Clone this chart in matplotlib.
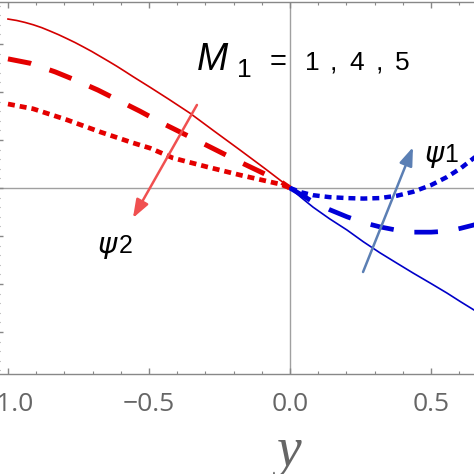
import matplotlib
matplotlib.use("Agg")
import matplotlib.pyplot as plt
from matplotlib.ticker import MultipleLocator

# red curves (left half)
x_red = [-1.0, -0.969, -0.940, -0.910, -0.880, -0.851, -0.821, -0.792, -0.762, -0.733,
         -0.703, -0.674, -0.644, -0.614, -0.585, -0.556, -0.526, -0.496, -0.43, -0.355,
         -0.27, -0.177, -0.09, -0.012, 0.0]
red_solid = [0.352, 0.349, 0.345, 0.340, 0.334, 0.327, 0.3195, 0.3115, 0.303, 0.294,
             0.2845, 0.2745, 0.2642, 0.2536, 0.2428, 0.2318, 0.2208, 0.2098, 0.185, 0.156,
             0.119, 0.079, 0.041, 0.006, 0.0]

x_red_dash = [-1.0, -0.922, -0.833, -0.762, -0.681, -0.610, -0.532, -0.461, -0.319, -0.177, -0.035, 0.0]
red_dash = [0.269, 0.260, 0.242, 0.225, 0.204, 0.183, 0.160, 0.1375, 0.096, 0.054, 0.014, 0.0]

x_red_dot = [-1.0, -0.911, -0.791, -0.674, -0.557, -0.496, -0.415, -0.294, -0.177, -0.035, 0.0]
red_dot = [0.175, 0.165, 0.142, 0.117, 0.094, 0.083, 0.0625, 0.044, 0.027, 0.008, 0.0]

# blue curves (right half)
x_blue = [0.0, 0.04, 0.082, 0.14, 0.202, 0.26, 0.319, 0.38, 0.436, 0.50, 0.557, 0.605, 0.652, 0.70]
blue_solid = [0.0, -0.020, -0.040, -0.064, -0.0875, -0.112, -0.135, -0.157, -0.177, -0.199,
              -0.219, -0.237, -0.254, -0.271]
blue_dash = [0.0, -0.014, -0.029, -0.045, -0.060, -0.072, -0.081, -0.088, -0.092, -0.092,
             -0.090, -0.084, -0.077, -0.068]
blue_dot = [0.0, -0.009, -0.015, -0.019, -0.021, -0.022, -0.021, -0.016, -0.008, 0.006,
            0.023, 0.041, 0.0625, 0.088]

W = 474.0
fig = plt.figure(figsize=(4.74, 4.74), dpi=100)
ax = fig.add_axes([-3.3 / W, 100 / W, 586.6 / W, 372 / W])
ax.set_xlim(-1.04, 1.04)
ax.set_ylim(-0.3875, 0.3875)

plt.rcParams['lines.scale_dashes'] = False
red = '#e40000'
blue = '#0000d8'

ax.axhline(0, color='#a0a0a0', lw=1.0, zorder=1)
ax.axvline(0, color='#a0a0a0', lw=1.0, zorder=1)

ax.plot(x_red, red_solid, color='#d40000', lw=1.2, zorder=3)
ax.plot(x_red_dash, red_dash, color=red, lw=3.6, dashes=(17, 14), dash_capstyle='butt', zorder=3)
ax.plot(x_red_dot, red_dot, color=red, lw=3.4, dashes=(5, 3.6), dash_capstyle='butt', zorder=3)

ax.plot(x_blue, blue_solid, color='#0000c8', lw=1.2, zorder=3)
ax.plot(x_blue, blue_dash, color=blue, lw=3.4, dashes=(17, 15), dash_capstyle='butt', zorder=3)
ax.plot(x_blue, blue_dot, color=blue, lw=3.2, dashes=(5, 3.6), dash_capstyle='butt', zorder=3)

# arrows
ax.annotate('', xy=(0.436, 0.085), xytext=(0.259, -0.175),
            arrowprops=dict(arrowstyle='-|>,head_length=1.1,head_width=0.4',
                            color='#5b7fb4', lw=1.8, shrinkA=0, shrinkB=0), zorder=4)
ax.annotate('', xy=(-0.557, -0.0625), xytext=(-0.330, 0.173),
            arrowprops=dict(arrowstyle='-|>,head_length=1.1,head_width=0.4',
                            color='#f05050', lw=1.8, shrinkA=0, shrinkB=0), zorder=4)

# frame and ticks
for s in ax.spines.values():
    s.set_color('#888888')
    s.set_linewidth(1.0)
ax.xaxis.set_minor_locator(MultipleLocator(0.1))
ax.yaxis.set_major_locator(MultipleLocator(0.1))
ax.yaxis.set_minor_locator(MultipleLocator(0.02))
ax.tick_params(which='both', direction='in', top=True, right=True, color='#888888')
ax.tick_params(which='major', length=4.5, width=1.0)
ax.tick_params(which='minor', length=2.3, width=0.8)
ax.tick_params(axis='x', labelsize=19, labelcolor='#666666', pad=13)
ax.tick_params(axis='y', labelleft=False)
ax.set_xticks([-1.0, -0.5, 0.0, 0.5, 1.0])
ax.set_xticklabels(['\u22121.0', '\u22120.5', '0.0', '0.5', ''], family='Open Sans')

# texts, pixel positions in the figure
def ftext(px, py, s, **kw):
    fig.text(px / W, 1 - py / W, s, **kw)

ftext(289, 466, 'y', family='Liberation Serif', style='italic', fontsize=40,
      color='#666666', ha='center', va='baseline')

ftext(197, 70, 'M', family='Liberation Sans', style='italic', fontsize=27,
      color='black', ha='left', va='baseline')
ftext(244, 77, '1', family='Liberation Sans', fontsize=19, ha='center', va='baseline')
ftext(278, 70, '=', family='Liberation Sans', fontsize=21, ha='center', va='baseline')
for cx, s in zip([312, 333, 357, 379, 402], ['1', ',', '4', ',', '5']):
    ftext(cx, 70, s, family='Liberation Sans', fontsize=19, ha='center', va='baseline')

ftext(434, 162, '\u03c8', family='DejaVu Sans', style='italic', fontsize=21,
      ha='center', va='baseline')
ftext(451, 162, '1', family='Liberation Sans', fontsize=18, ha='center', va='baseline')
ftext(107, 253, '\u03c8', family='DejaVu Sans', style='italic', fontsize=21,
      ha='center', va='baseline')
ftext(126, 253, '2', family='Liberation Sans', fontsize=18, ha='center', va='baseline')

fig.savefig('out.png', dpi=100)
